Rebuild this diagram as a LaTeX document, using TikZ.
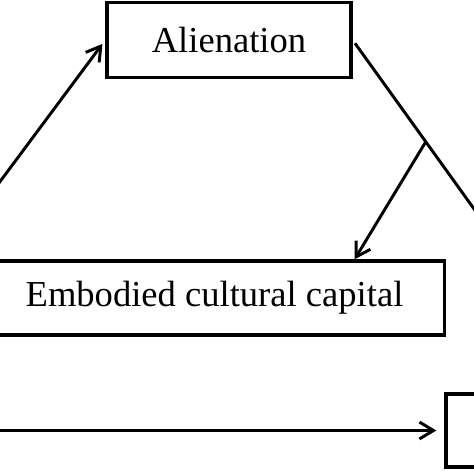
\documentclass[tikz,border=0pt]{standalone}
\usepackage{fontspec}
\setmainfont{Liberation Serif}
\usetikzlibrary{arrows.meta,calc}

\tikzset{
  varbox/.style={draw, line width=2.3pt, minimum height=1.88cm, inner sep=0pt},
  path/.style={line width=2.1pt, -{Straight Barb[length=0.35cm,width=0.42cm]}}
}

\begin{document}
\begin{tikzpicture}[x=0.025cm, y=-0.025cm, font=\fontsize{26}{30}\selectfont]
  \clip (0,0) rectangle (474,474);

  \node[varbox, minimum width=6.1cm] (alien) at (229,40) {Alienation};
  \node[varbox, minimum width=11.48cm, minimum height=1.85cm] (embod) at (214.5,298) {Embodied cultural capital};
  \node[varbox, minimum width=5cm, minimum height=1.83cm] (outc) at (546,430.5) {};

  \coordinate (lstart) at (-4,187);
  \coordinate (bstart) at (-5,430.5);
  \coordinate (rend) at (505,252);
  \coordinate (br) at ($(alien.east)!0.48!(rend)$);

  \draw[path, shorten >=0.12cm] (lstart) -- (alien.west);
  \draw[line width=2.1pt, shorten <=0.1cm] (alien.east) -- (rend); % no tip here
  \draw[path] (br) -- ([xshift=3.5cm]embod.north);
  \draw[path, shorten >=0.2cm] (bstart) -- (outc.west);
\end{tikzpicture}
\end{document}
